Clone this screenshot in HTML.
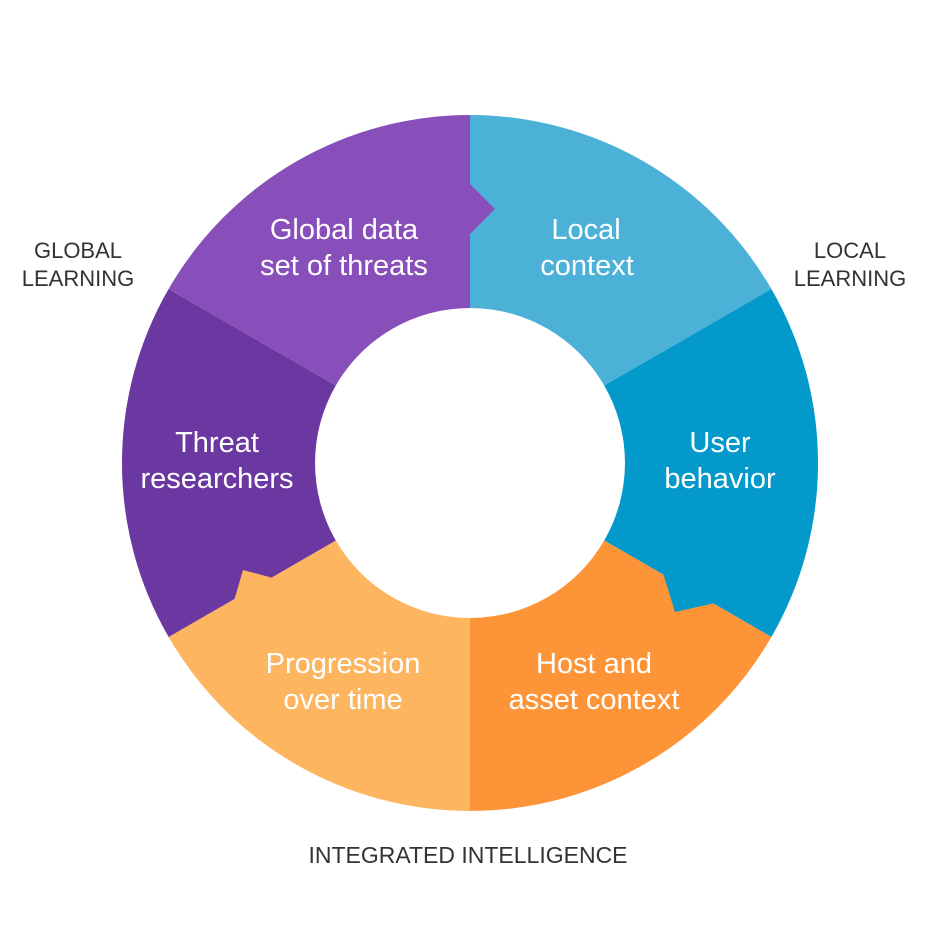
<!DOCTYPE html>
<html><head><style>body{margin:0;background:#fff}svg{display:block}</style></head>
<body>
<svg width="936" height="932" viewBox="0 0 936 932" xmlns="http://www.w3.org/2000/svg">
<g>
<path d="M470,115 A348,348 0 0 1 771.4,289 L604.2,385.5 A155,155 0 0 0 470,308 Z" fill="#4cb1d6"/>
<path d="M771.4,289 A348,348 0 0 1 771.4,637 L604.2,540.5 A155,155 0 0 0 604.2,385.5 Z" fill="#0399cb"/>
<path d="M771.4,637 A348,348 0 0 1 470,811 L470,618 A155,155 0 0 0 604.2,540.5 Z" fill="#fd9538"/>
<path d="M470,811 A348,348 0 0 1 168.6,637 L335.8,540.5 A155,155 0 0 0 470,618 Z" fill="#fdb55f"/>
<path d="M168.6,637 A348,348 0 0 1 168.6,289 L335.8,385.5 A155,155 0 0 0 335.8,540.5 Z" fill="#6b38a1"/>
<path d="M168.6,289 A348,348 0 0 1 470,115 L470,308 A155,155 0 0 0 335.8,385.5 Z" fill="#884fbb"/>
<polygon points="469,183 495,209 469,235" fill="#884fbb"/>
<polygon points="234,601 243,570 273,578" fill="#fdb55f"/>
<polygon points="663,573 675,612 715,603 716,600" fill="#0399cb"/>
</g>
<g font-family="Liberation Sans, sans-serif" font-size="29" fill="#fff" text-anchor="middle">
<text x="344" y="239">Global data</text><text x="344" y="275">set of threats</text>
<text x="586" y="239">Local</text><text x="587" y="275">context</text>
<text x="217" y="452">Threat</text><text x="217" y="488">researchers</text>
<text x="720" y="452">User</text><text x="720" y="488">behavior</text>
<text x="343" y="673">Progression</text><text x="343" y="709">over time</text>
<text x="594" y="673">Host and</text><text x="594" y="709">asset context</text>
</g>
<g font-family="Liberation Sans, sans-serif" font-size="22" fill="#333" text-anchor="middle">
<text x="78" y="258">GLOBAL</text><text x="78" y="286">LEARNING</text>
<text x="850" y="258">LOCAL</text><text x="850" y="286">LEARNING</text>
<text x="468" y="863" font-size="23">INTEGRATED INTELLIGENCE</text>
</g>
</svg>
</body></html>
